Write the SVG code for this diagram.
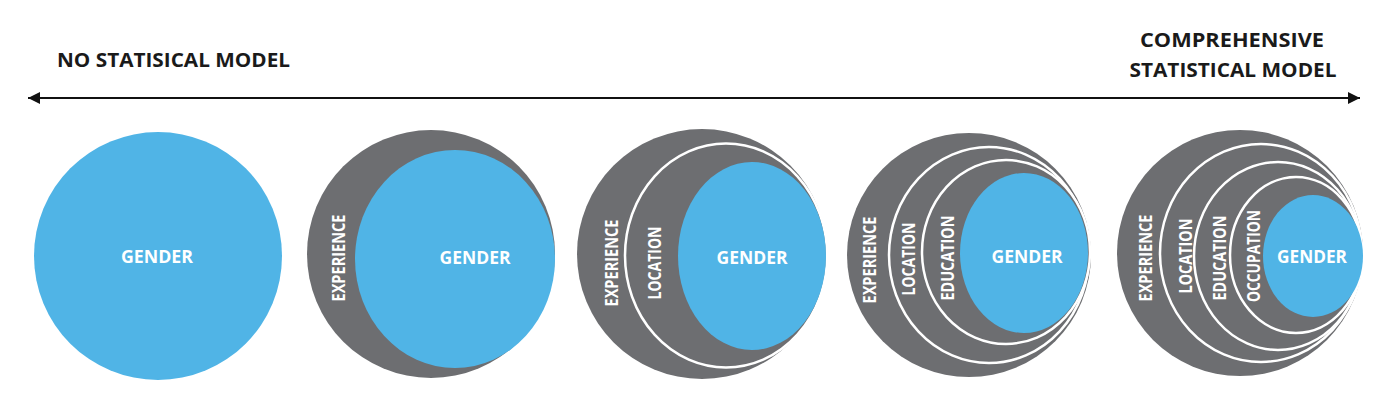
<svg xmlns="http://www.w3.org/2000/svg" width="1382" height="400" viewBox="0 0 1382 400">
<defs>
<style>
.title{font-family:"Open Sans","Liberation Sans",sans-serif;font-weight:700;font-size:19px;fill:#1a1a1a}
.lbl{font-family:"Open Sans","Liberation Sans",sans-serif;font-weight:700;font-size:17px;fill:#ffffff;text-anchor:middle}
.gray{fill:#6d6e71}
.ring{fill:#6d6e71;stroke:#ffffff;stroke-width:2.5}
.blue{fill:#50b4e6}
</style>
<marker id="ah" viewBox="0 0 10 10" refX="10" refY="5" markerWidth="15" markerHeight="12" markerUnits="userSpaceOnUse" orient="auto-start-reverse">
<path d="M0,0 L10,5 L0,10 z" fill="#111"/>
</marker>
</defs>
<rect width="1382" height="400" fill="#ffffff"/>
<g id="titles">
<text class="title" x="57" y="67" textLength="233" lengthAdjust="spacingAndGlyphs">NO STATISICAL MODEL</text>
<text class="title" x="1232" y="47" text-anchor="middle" textLength="184" lengthAdjust="spacingAndGlyphs">COMPREHENSIVE</text>
<text class="title" x="1233" y="77" text-anchor="middle" textLength="207" lengthAdjust="spacingAndGlyphs">STATISTICAL MODEL</text>
</g>
<g id="connectors">
<line x1="28" y1="98" x2="1360" y2="98" stroke="#111" stroke-width="2" marker-start="url(#ah)" marker-end="url(#ah)"/>
</g>
<g id="model1">
<circle class="blue" cx="158" cy="256" r="124"/>
<text class="lbl" x="157" y="263" textLength="72" lengthAdjust="spacingAndGlyphs">GENDER</text>
</g>
<g id="model2">
<circle class="gray" cx="431" cy="254" r="124"/>
<ellipse class="blue" cx="455" cy="259" rx="100" ry="109"/>
<text class="lbl" transform="translate(345,258) rotate(-90)" textLength="87" lengthAdjust="spacingAndGlyphs">EXPERIENCE</text>
<text class="lbl" x="475" y="264" textLength="71" lengthAdjust="spacingAndGlyphs">GENDER</text>
</g>
<g id="model3">
<circle class="gray" cx="702" cy="254" r="125"/>
<ellipse class="ring" cx="726" cy="255.5" rx="101" ry="112"/>
<ellipse class="blue" cx="752" cy="256" rx="74" ry="94"/>
<text class="lbl" transform="translate(618,263) rotate(-90)" textLength="87" lengthAdjust="spacingAndGlyphs">EXPERIENCE</text>
<text class="lbl" transform="translate(661,263) rotate(-90)" textLength="73" lengthAdjust="spacingAndGlyphs">LOCATION</text>
<text class="lbl" x="752" y="264" textLength="71" lengthAdjust="spacingAndGlyphs">GENDER</text>
</g>
<g id="model4">
<circle class="gray" cx="969" cy="255" r="122"/>
<ellipse class="ring" cx="989" cy="255" rx="100" ry="108"/>
<ellipse class="ring" cx="1006" cy="252" rx="84" ry="92"/>
<ellipse class="blue" cx="1024" cy="253" rx="64" ry="80"/>
<text class="lbl" transform="translate(876,260) rotate(-90)" textLength="87" lengthAdjust="spacingAndGlyphs">EXPERIENCE</text>
<text class="lbl" transform="translate(915,259) rotate(-90)" textLength="73" lengthAdjust="spacingAndGlyphs">LOCATION</text>
<text class="lbl" transform="translate(954,258) rotate(-90)" textLength="85" lengthAdjust="spacingAndGlyphs">EDUCATION</text>
<text class="lbl" x="1027" y="263" textLength="71" lengthAdjust="spacingAndGlyphs">GENDER</text>
</g>
<g id="model5">
<circle class="gray" cx="1240" cy="253" r="123"/>
<ellipse class="ring" cx="1261" cy="253" rx="101" ry="109"/>
<ellipse class="ring" cx="1278" cy="256" rx="84" ry="94"/>
<ellipse class="ring" cx="1296" cy="255" rx="66" ry="78"/>
<ellipse class="blue" cx="1313" cy="256" rx="50" ry="61"/>
<text class="lbl" transform="translate(1152,258) rotate(-90)" textLength="87" lengthAdjust="spacingAndGlyphs">EXPERIENCE</text>
<text class="lbl" transform="translate(1192,256) rotate(-90)" textLength="75" lengthAdjust="spacingAndGlyphs">LOCATION</text>
<text class="lbl" transform="translate(1226,258) rotate(-90)" textLength="85" lengthAdjust="spacingAndGlyphs">EDUCATION</text>
<text class="lbl" transform="translate(1260,256) rotate(-90)" textLength="92" lengthAdjust="spacingAndGlyphs">OCCUPATION</text>
<text class="lbl" x="1312" y="263" textLength="70" lengthAdjust="spacingAndGlyphs">GENDER</text>
</g>
</svg>
